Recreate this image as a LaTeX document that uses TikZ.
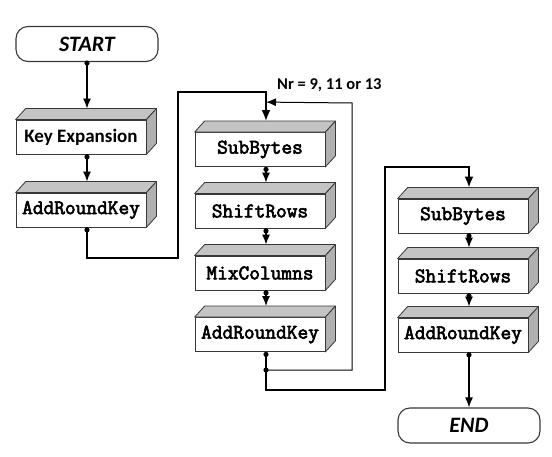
\documentclass[tikz,border=0pt]{standalone}
\usepackage{fontspec}
\usetikzlibrary{arrows.meta,calc}
\newfontfamily\mycal{Carlito}
\newfontfamily\mymono[FakeBold=3]{Latin Modern Mono}
\definecolor{topgray}{HTML}{C4C4C4}
\definecolor{sidegray}{HTML}{B0B0B0}
\definecolor{edgecol}{HTML}{383838}
\begin{document}
\begin{tikzpicture}[x=1pt,y=-1pt,
  boxfront/.style={draw=edgecol,line width=0.8pt,fill=white,minimum width=130pt,minimum height=34pt,inner sep=0pt,font=\mymono\fontsize{20.8}{22}\selectfont},
  calbox/.style={boxfront,font=\mycal\bfseries\fontsize{19}{21}\selectfont},
  face/.style={draw=edgecol,line width=0.8pt,line join=round},
  terminal/.style={draw=edgecol,line width=1.1pt,rounded corners=12pt,minimum width=142pt,minimum height=35pt,inner sep=0pt,fill=white,font=\mycal\bfseries\itshape\fontsize{22}{24}\selectfont},
  conn/.style={line width=1.3pt,-{Latex[length=10pt,width=8pt]}},
  thickconn/.style={line width=2pt,-{Latex[length=11pt,width=9pt]}},
  loopconn/.style={line width=1pt,-{Latex[length=10pt,width=8pt]}},
  note/.style={font=\mycal\bfseries\fontsize{16.5}{18}\selectfont,inner sep=0pt},
  dot/.style={fill=black}
]
\useasboundingbox (0,0) rectangle (552,457);

% terminals
\node[terminal] (start) at (87,44) {START};
\node[terminal] (endn) at (469,425.5) {END};

% left column
\node[calbox] (ke) at (81,137) {Key Expansion};
\node[boxfront] (ark1) at (81,210) {AddRoundKey};
% middle column
\node[boxfront] (sb) at (260,149.5) {SubBytes};
\node[boxfront] (sr) at (260,211) {ShiftRows};
\node[boxfront] (mc) at (260,273) {MixColumns};
\node[boxfront] (ark2) at (260,334.5) {AddRoundKey};
% right column
\node[boxfront] (sb3) at (463,216) {SubBytes};
\node[boxfront] (sr3) at (463,276) {ShiftRows};
\node[boxfront] (ark3) at (463,335) {AddRoundKey};

% 3D faces
\foreach \n in {ke,ark1,sb,sr,mc,ark2,sb3,sr3,ark3}{
  \draw[face,fill=topgray] (\n.north west) -- ++(10,-11) -- ($(\n.north east)+(10,-11)$) -- (\n.north east) -- cycle;
  \draw[face,fill=sidegray] (\n.north east) -- ++(10,-11) -- ($(\n.south east)+(10,-11)$) -- (\n.south east) -- cycle;
}

\node[note,anchor=west] (nr) at (277,85) {Nr = 9, 11 or 13};

% connector points
\coordinate (keout) at ($(ke.south)+(6,0)$);
\coordinate (kein) at ($(ke.north)+(6,-11)$);
\coordinate (ark1out) at ($(ark1.south)+(6,0)$);
\coordinate (ark1in) at ($(ark1.north)+(6,-11)$);
\coordinate (sbout) at ($(sb.south)+(6,0)$);
\coordinate (sbin) at ($(sb.north)+(6,-11)$);
\coordinate (srout) at ($(sr.south)+(6,0)$);
\coordinate (srin) at ($(sr.north)+(6,-11)$);
\coordinate (mcout) at ($(mc.south)+(6,0)$);
\coordinate (mcin) at ($(mc.north)+(6,-11)$);
\coordinate (ark2out) at ($(ark2.south)+(6,0)$);
\coordinate (ark2in) at ($(ark2.north)+(6,-11)$);
\coordinate (sbthreeout) at ($(sb3.south)+(6,0)$);
\coordinate (sbthreein) at ($(sb3.north)+(6,-11)$);
\coordinate (srthreeout) at ($(sr3.south)+(6,0)$);
\coordinate (srthreein) at ($(sr3.north)+(6,-11)$);
\coordinate (ark3out) at ($(ark3.south)+(6,0)$);
\coordinate (ark3in) at ($(ark3.north)+(6,-11)$);
\coordinate (c1) at (178,258);
\coordinate (c2) at (178,92);
\coordinate (c3) at (385,390);
\coordinate (c4) at (385,167);
\coordinate (j) at (266,370);
\coordinate (c5) at (352,103);
\coordinate (loopin) at ($(sb.north)+(6,-30)$);

% connectors
\draw[conn] (start.south) -- (kein);
\draw[conn] (keout) -- (ark1in);
\draw[thickconn] (ark1out) |- (c1) -- (c2) -| (sbin);
\draw[conn] (sbout) -- (srin);
\draw[conn] (srout) -- (mcin);
\draw[conn] (mcout) -- (ark2in);
\draw[thickconn] (ark2out) |- (c3) -- (c4) -| (sbthreein);
\draw[loopconn] (j) -| (c5) -- (loopin);
\draw[conn] (sbthreeout) -- (srthreein);
\draw[conn] (srthreeout) -- (ark3in);
\draw[conn] (ark3out) -- (endn.north);

% dots
\fill[dot] (start.south) ++(0,1) circle (2.6pt);
\foreach \p in {keout,ark1out,sbout,srout,mcout,ark2out,sbthreeout,srthreeout,ark3out}{
  \fill[dot] (\p) ++(0,2.5) circle (2.6pt);
}
\fill[dot] (j) circle (2.6pt);
\end{tikzpicture}
\end{document}
